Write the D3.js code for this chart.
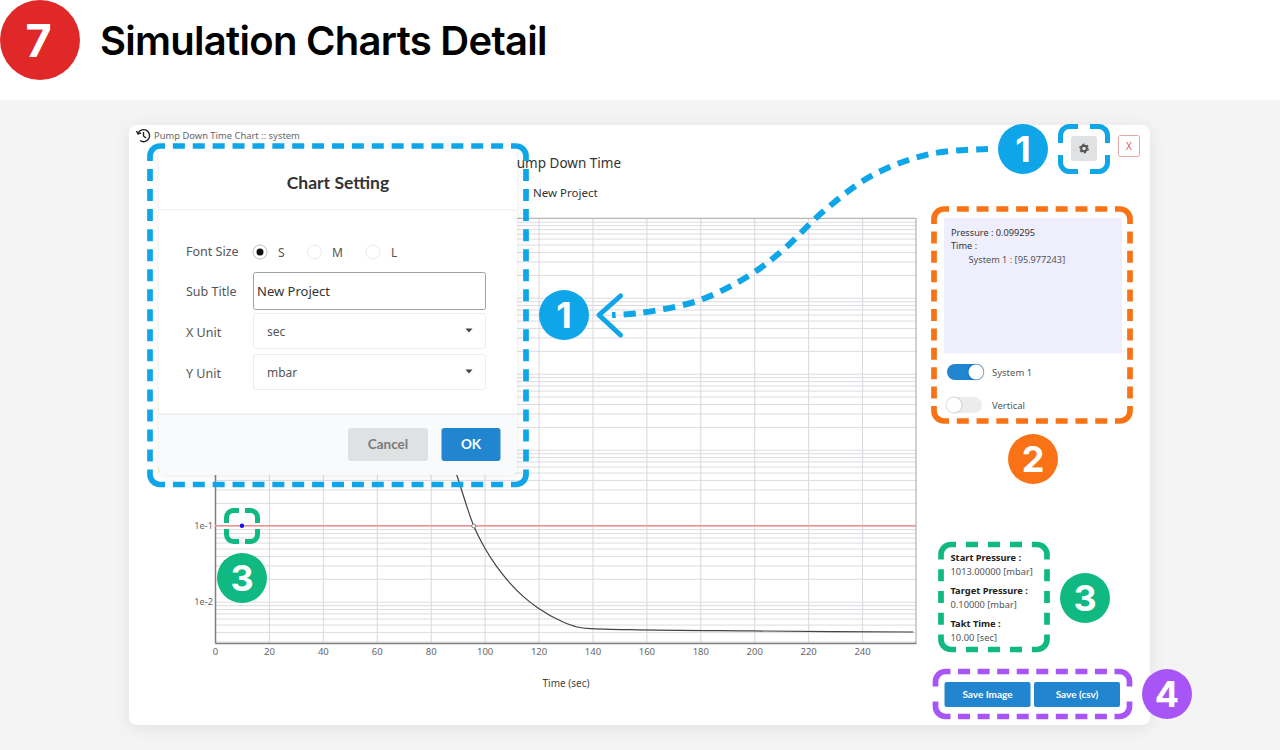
<!DOCTYPE html>
<html>
<head>
<meta charset="utf-8">
<script src="https://cdn.jsdelivr.net/npm/d3@7"></script>
<style>
  html, body { margin: 0; padding: 0; background: #f4f4f5; }
  svg { display: block; }
  text { font-family: 'Noto Sans', sans-serif; }
</style>
</head>
<body>
<div id="chart"></div>
<script>
// values
const curveTime = [0, 40, 70, 85, 89.8, 95.98, 99.8, 104.5, 109.4, 114.4, 119.8, 129.1, 134.3, 139.1, 153.9, 200, 259]
const curvePressure = [1013, 300, 30, 1.5, 0.451, 0.0993, 0.0529, 0.0289, 0.0176, 0.01164, 0.00826, 0.0054, 0.00465, 0.00442, 0.00428, 0.00412, 0.00399]
const xTicks = [0, 20, 40, 60, 80, 100, 120, 140, 160, 180, 200, 220, 240]
const yDecades = [0.01, 0.1, 1, 10, 100, 1000]
const yMultipliers = [1, 2, 3, 4, 5, 6, 7, 8, 9]
const yExtra = [0.003, 0.004, 0.005, 0.006, 0.007, 0.008, 0.009]
const yLabels = [0.01, 0.1] // the others sit behind the dialog
const targetPressure = 0.1
const taktTime = 10
const hoverPoint = [95.977243, 0.099295]
const infoLines = ['Pressure : 0.099295', 'Time :', 'System 1 : [95.977243]']
const statLabels = ['Start Pressure :', 'Target Pressure :', 'Takt Time :']
const statValues = ['1013.00000 [mbar]', '0.10000 [mbar]', '10.00 [sec]']

const blue = '#0ea5e9', orange = '#f97316', green = '#10b981', purple = '#a855f7'
const semantic = '#2185d0'

const svg = d3.select('#chart').append('svg')
  .attr('width', 1280)
  .attr('height', 750)
  .attr('viewBox', [0, 0, 1280, 750])

// helper for plain labels
const label = (parent, x, y, str, size, fill, opts = {}) => parent.append('text')
  .attr('x', x).attr('y', y)
  .attr('font-size', size)
  .attr('fill', fill)
  .attr('text-anchor', opts.anchor || 'start')
  .attr('font-weight', opts.weight || 400)
  .style('font-family', opts.font || null)
  .style('letter-spacing', opts.spacing || null)
  .text(str)

// page header
svg.append('rect').attr('width', 1280).attr('height', 100).attr('fill', 'white')
svg.append('circle').attr('cx', 40).attr('cy', 40).attr('r', 40).attr('fill', '#e02828')
label(svg, 38.5, 57, '7', 45, 'white', { anchor: 'middle', weight: 700, font: 'Inter' })
label(svg, 100, 55, 'Simulation Charts Detail', 40, '#000', { weight: 600, font: 'Inter', spacing: '-0.72px' })

// card
svg.append('rect')
  .attr('x', 129).attr('y', 125).attr('width', 1021).attr('height', 600).attr('rx', 8)
  .attr('fill', 'white')
  .style('filter', 'drop-shadow(0 3px 8px rgba(0,0,0,0.08))')

// card top left caption
const clock = svg.append('g').attr('fill', 'none').attr('stroke', '#222').attr('stroke-width', 1.4)
clock.append('path').attr('d', 'M138.2,133 A6,6 0 1 1 140,140.5')
clock.append('path').attr('d', 'M136.5,131 L138,134 L141,133')
clock.append('path').attr('d', 'M143.5,132 V136 L146,138')
label(svg, 154, 139, 'Pump Down Time Chart :: system', 9.4, '#666')

// chart
const x = d3.scaleLinear().domain([0, 260]).range([215, 916])
const y = d3.scaleLog().domain([0.00286, 1109]).range([643, 218.3])

const minorTicks = yDecades.flatMap(d => yMultipliers.map(m => d * m))
  .concat(yExtra)
  .filter(d => d <= 1100)

const gridY = svg.append('g')
  .attr('transform', `translate(${x.range()[0]},0)`)
  .call(d3.axisLeft(y).tickValues(minorTicks).tickSize(-(x.range()[1] - x.range()[0])).tickFormat(''))
gridY.select('.domain').remove()
gridY.selectAll('line').attr('stroke', '#dcdce1')

const gridX = svg.append('g')
  .attr('transform', `translate(0,${y.range()[0]})`)
  .call(d3.axisBottom(x).tickValues(xTicks).tickSize(-(y.range()[0] - y.range()[1])).tickFormat(''))
gridX.select('.domain').remove()
gridX.selectAll('line').attr('stroke', '#d8d8de')

// frame
svg.append('path')
  .attr('d', `M${x.range()[0]},${y.range()[1]} H${x.range()[1]} V${y.range()[0]}`)
  .attr('fill', 'none').attr('stroke', '#a3a3a3')

const axisB = svg.append('g')
  .attr('transform', `translate(0,${y.range()[0]})`)
  .call(d3.axisBottom(x).tickValues(xTicks).tickSize(0).tickPadding(5))
axisB.select('.domain').attr('stroke', '#808080').attr('stroke-width', 1.5)
axisB.selectAll('text').attr('font-size', 9.5).attr('fill', '#666').style('font-family', "'Noto Sans', sans-serif")

const axisL = svg.append('g')
  .attr('transform', `translate(${x.range()[0]},0)`)
  .call(d3.axisLeft(y).tickValues(yLabels).tickSize(0).tickPadding(2)
    .tickFormat(d => d3.format('.0e')(d)))
axisL.select('.domain').attr('stroke', '#808080').attr('stroke-width', 1.5)
axisL.selectAll('text').attr('font-size', 9.2).attr('fill', '#666').style('font-family', "'Noto Sans', sans-serif")

// target line, curve, markers
svg.append('line')
  .attr('x1', x.range()[0]).attr('x2', x.range()[1])
  .attr('y1', y(targetPressure)).attr('y2', y(targetPressure))
  .attr('stroke', '#f09090').attr('stroke-width', 1.5)

const line = d3.line()
  .x(d => x(d[0]))
  .y(d => y(d[1]))
  .curve(d3.curveMonotoneX)

svg.append('path')
  .datum(d3.zip(curveTime, curvePressure))
  .attr('d', line)
  .attr('fill', 'none')
  .attr('stroke', '#444')
  .attr('stroke-width', 1.2)

svg.append('circle')
  .attr('cx', x(hoverPoint[0])).attr('cy', y(hoverPoint[1])).attr('r', 2)
  .attr('fill', 'white').attr('stroke', '#666').attr('stroke-width', 0.8)
svg.append('circle')
  .attr('cx', x(taktTime)).attr('cy', y(targetPressure)).attr('r', 2.2)
  .attr('fill', '#1010f0')

label(svg, 566, 687, 'Time (sec)', 10, '#444', { anchor: 'middle' })
label(svg, 621, 168, 'Pump Down Time', 13.5, '#333', { anchor: 'end' })
label(svg, 533, 197, 'New Project', 11.5, '#333')
svg.append('text')
  .attr('transform', 'translate(167,431) rotate(-90)')
  .attr('text-anchor', 'middle')
  .attr('font-size', 11)
  .attr('fill', '#444')
  .text('Pressure (mbar)')

// settings modal
const modal = svg.append('g')
modal.append('rect')
  .attr('x', 159).attr('y', 147).attr('width', 358).attr('height', 328).attr('rx', 6)
  .attr('fill', 'white')
  .style('filter', 'drop-shadow(0 1px 3px rgba(0,0,0,0.08))')
modal.append('path')
  .attr('d', 'M159,414 H517 V469 a6,6 0 0 1 -6,6 H165 a6,6 0 0 1 -6,-6 Z')
  .attr('fill', '#f9fafb')
modal.append('line').attr('x1', 159).attr('x2', 517).attr('y1', 414).attr('y2', 414).attr('stroke', '#e6e6e8')
modal.append('line').attr('x1', 159).attr('x2', 517).attr('y1', 210).attr('y2', 210).attr('stroke', '#ececee')
label(modal, 338, 189, 'Chart Setting', 17.5, '#333', { anchor: 'middle', weight: 700, font: 'Lato' })

label(modal, 186, 256, 'Font Size', 12.5, '#555')
label(modal, 186, 296, 'Sub Title', 12.5, '#555')
label(modal, 186, 337, 'X Unit', 12.5, '#555')
label(modal, 186, 378, 'Y Unit', 12.5, '#555')

const radios = [[260, 'S', 278], [314.5, 'M', 332], [373, 'L', 391]]
radios.forEach(([cx, str, tx], i) => {
  modal.append('circle').attr('cx', cx).attr('cy', 252).attr('r', 7)
    .attr('fill', 'white').attr('stroke', i === 0 ? '#c4c4c4' : '#e8e8e8')
  label(modal, tx, 257, str, 12, '#555')
})
modal.append('circle').attr('cx', 260).attr('cy', 252).attr('r', 3.5).attr('fill', '#111')

modal.append('rect').attr('x', 253.5).attr('y', 272.5).attr('width', 232).attr('height', 37).attr('rx', 2)
  .attr('fill', 'white').attr('stroke', '#a0a0a0')
label(modal, 257, 296, 'New Project', 13, '#333')

const selects = [[313.5, 'sec'], [354.5, 'mbar']]
selects.forEach(([top, str]) => {
  modal.append('rect').attr('x', 253.5).attr('y', top).attr('width', 232).attr('height', 35).attr('rx', 3)
    .attr('fill', 'white').attr('stroke', '#ececec')
  label(modal, 267, top + 22.5, str, 12, '#555')
  modal.append('path')
    .attr('d', `M465.5,${top + 15} h7 l-3.5,4 Z`)
    .attr('fill', '#444')
})

modal.append('rect').attr('x', 348).attr('y', 428).attr('width', 80).attr('height', 33).attr('rx', 3).attr('fill', '#e0e1e2')
label(modal, 388, 449, 'Cancel', 13.5, '#7a7a7a', { anchor: 'middle', weight: 700, font: 'Lato' })
modal.append('rect').attr('x', 441.5).attr('y', 428).attr('width', 59).attr('height', 33).attr('rx', 3).attr('fill', semantic)
label(modal, 471, 449, 'OK', 13.5, 'white', { anchor: 'middle', weight: 700, font: 'Lato' })

// right hand panel
svg.append('rect').attr('x', 1071).attr('y', 136).attr('width', 26).attr('height', 25).attr('rx', 3).attr('fill', '#e0e1e2')
svg.append('circle').attr('cx', 1084).attr('cy', 148.5).attr('r', 2.8)
  .attr('fill', 'none').attr('stroke', '#555').attr('stroke-width', 2)
svg.append('circle').attr('cx', 1084).attr('cy', 148.5).attr('r', 4.2)
  .attr('fill', 'none').attr('stroke', '#555').attr('stroke-width', 1.4).attr('stroke-dasharray', '2.2 2.2')
svg.append('rect').attr('x', 1118.5).attr('y', 135.5).attr('width', 21).attr('height', 21).attr('rx', 2)
  .attr('fill', 'white').attr('stroke', '#e3a5a5')
label(svg, 1129, 150, 'X', 10, '#d85a5a', { anchor: 'middle' })

svg.append('rect').attr('x', 944).attr('y', 218).attr('width', 178).attr('height', 135.5).attr('rx', 1).attr('fill', '#efeefd')
label(svg, 951, 236, infoLines[0], 9.2, '#333')
label(svg, 951, 249, infoLines[1], 9.2, '#333')
label(svg, 968.5, 263, infoLines[2], 9.2, '#555')

svg.append('rect').attr('x', 947).attr('y', 364).attr('width', 37).attr('height', 16).attr('rx', 8).attr('fill', semantic)
svg.append('circle').attr('cx', 976).attr('cy', 372).attr('r', 7.5).attr('fill', 'white')
  .style('filter', 'drop-shadow(0 0 1px rgba(0,0,0,0.3))')
label(svg, 992, 375.5, 'System 1', 9.5, '#555')
svg.append('rect').attr('x', 947).attr('y', 397).attr('width', 35).attr('height', 16).attr('rx', 8).attr('fill', '#ececed')
svg.append('circle').attr('cx', 954).attr('cy', 405).attr('r', 7.5).attr('fill', 'white')
  .style('filter', 'drop-shadow(0 0 1px rgba(0,0,0,0.3))')
label(svg, 992, 408.5, 'Vertical', 9.5, '#555')

statLabels.forEach((str, i) => {
  const top = 560.5 + i * 33
  label(svg, 950.5, top, str, 9.3, '#222', { weight: 700 })
  label(svg, 950.5, top + 14, statValues[i], 9.3, '#555')
})

const saveButtons = [[944.5, 'Save Image'], [1034, 'Save (csv)']]
saveButtons.forEach(([left, str]) => {
  svg.append('rect').attr('x', left).attr('y', 682).attr('width', 86).attr('height', 25).attr('rx', 2).attr('fill', semantic)
  label(svg, left + 43, 698, str, 10, 'white', { anchor: 'middle', weight: 700, font: 'Lato' })
})

// callouts
const callouts = svg.append('g').attr('fill', 'none')

// dashed frame: solid corners, dashes spaced evenly between them on each side
const dashed = (fx, fy, w, h, color) => {
  const r = 10, leg = 5, reach = r + leg, sw = 5.7
  const corners = [
    `M${fx},${fy + reach} v${-leg} a${r},${r} 0 0 1 ${r},${-r} h${leg}`,
    `M${fx + w - reach},${fy} h${leg} a${r},${r} 0 0 1 ${r},${r} v${leg}`,
    `M${fx + w},${fy + h - reach} v${leg} a${r},${r} 0 0 1 ${-r},${r} h${-leg}`,
    `M${fx + reach},${fy + h} h${-leg} a${r},${r} 0 0 1 ${-r},${-r} v${-leg}`
  ]
  callouts.selectAll(null).data(corners).join('path')
    .attr('d', d => d).attr('stroke', color).attr('stroke-width', sw)
  const sides = [
    [fx + reach, fy, fx + w - reach, fy],
    [fx + reach, fy + h, fx + w - reach, fy + h],
    [fx, fy + reach, fx, fy + h - reach],
    [fx + w, fy + reach, fx + w, fy + h - reach]
  ]
  sides.forEach(([x1, y1, x2, y2]) => {
    const len = Math.hypot(x2 - x1, y2 - y1)
    const n = Math.round((len - 8) / 20)
    if (n < 1) return
    const gap = (len - 12 * n) / (n + 1)
    callouts.append('line')
      .attr('x1', x1).attr('y1', y1).attr('x2', x2).attr('y2', y2)
      .attr('stroke', color).attr('stroke-width', sw)
      .attr('stroke-dasharray', `12 ${gap}`)
      .attr('stroke-dashoffset', -gap)
  })
}

dashed(150, 146, 376, 338.5, blue)
dashed(934, 209, 196, 212, orange)
dashed(941, 544.5, 106, 105, green)
dashed(935.5, 671.5, 194, 45, purple)

// corner brackets with a gap in the middle of each side
const brackets = (fx, fy, w, h, r, gap, color) => {
  const gx = (w - gap) / 2 - r, gy = (h - gap) / 2 - r
  const paths = [
    `M${fx},${fy + r + gy} v${-gy} a${r},${r} 0 0 1 ${r},${-r} h${gx}`,
    `M${fx + w - r - gx},${fy} h${gx} a${r},${r} 0 0 1 ${r},${r} v${gy}`,
    `M${fx + w},${fy + h - r - gy} v${gy} a${r},${r} 0 0 1 ${-r},${r} h${-gx}`,
    `M${fx + r + gx},${fy + h} h${-gx} a${r},${r} 0 0 1 ${-r},${-r} v${-gy}`
  ]
  callouts.selectAll(null).data(paths).join('path')
    .attr('d', d => d)
    .attr('stroke', color).attr('stroke-width', 5)
}
brackets(1060.5, 126.5, 47, 45, 9, 12, blue)
brackets(226.5, 510.5, 31, 31, 7, 6, green)

// dashed arrow between the two number 1 badges
const arrowPath = [[988, 149], [930, 154], [873, 175], [825, 210], [783, 250], [750, 275], [700, 300], [640, 313], [612, 315]]
callouts.append('path')
  .attr('d', d3.line().curve(d3.curveCatmullRom)(arrowPath))
  .attr('stroke', blue).attr('stroke-width', 6).attr('stroke-dasharray', '12 8')
callouts.append('path')
  .attr('d', 'M620.5,296 L599,315 L620.5,335')
  .attr('stroke', blue).attr('stroke-width', 5).attr('stroke-linecap', 'round').attr('stroke-linejoin', 'round')

const badges = [
  [1023, 149, '1', blue],
  [564, 315, '1', blue],
  [1033, 459, '2', orange],
  [1085, 598, '3', green],
  [242, 578, '3', green],
  [1167, 694, '4', purple]
]
badges.forEach(([cx, cy, str, color]) => {
  svg.append('circle').attr('cx', cx).attr('cy', cy).attr('r', 25).attr('fill', color)
  label(svg, cx, cy + 13, str, 36, 'white', { anchor: 'middle', weight: 700, font: 'Inter' })
})
</script>
</body>
</html>
